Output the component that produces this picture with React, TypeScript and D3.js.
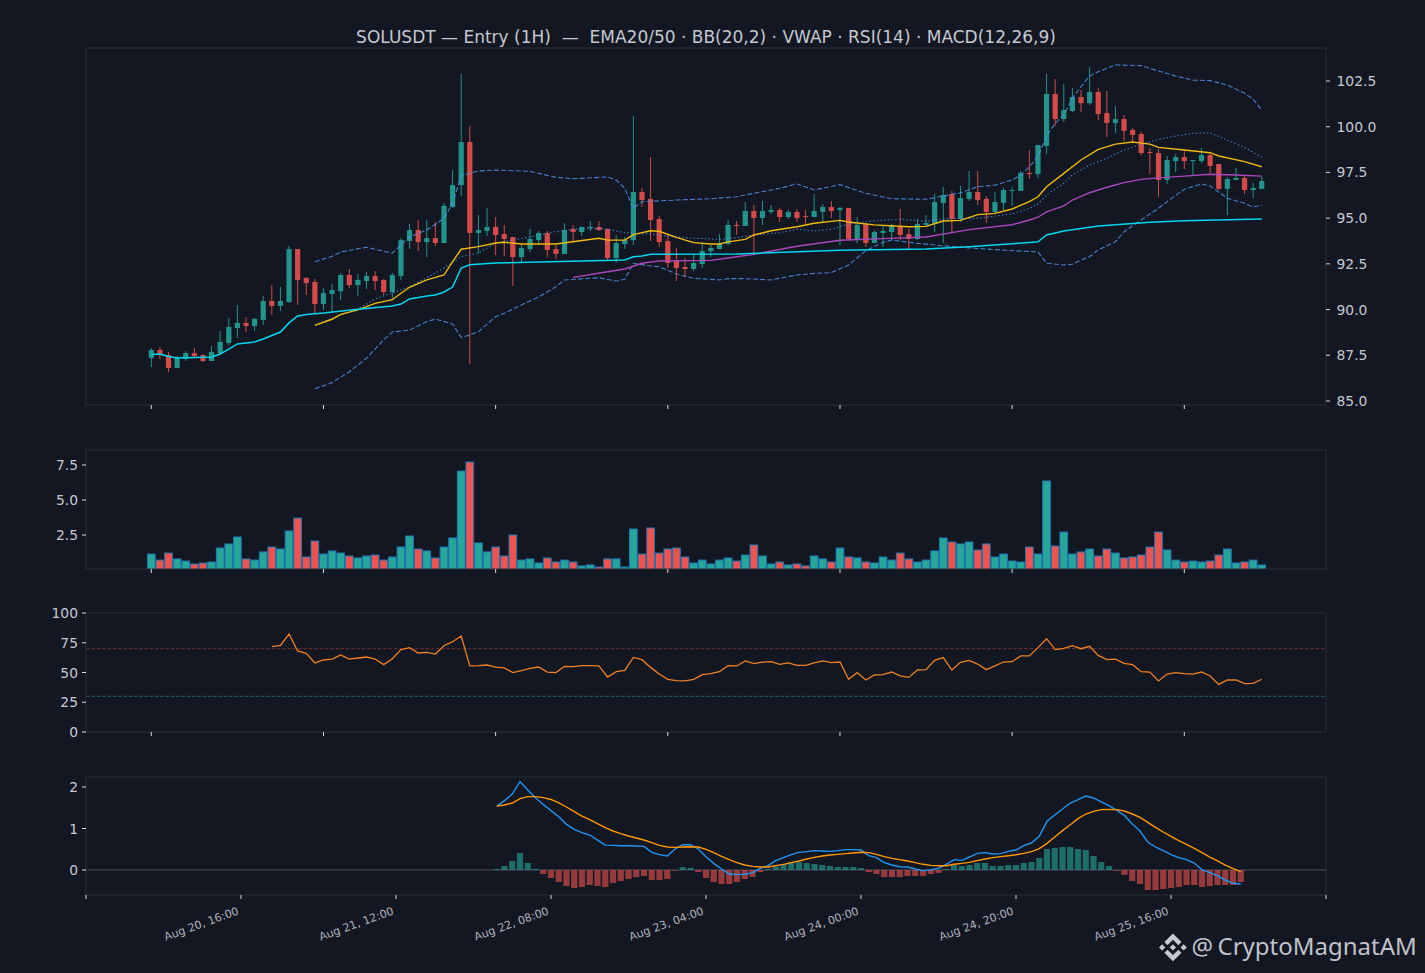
import React from "react";
import * as d3 from "d3";

const TITLE = "SOLUSDT — Entry (1H)  —  EMA20/50 · BB(20,2) · VWAP · RSI(14) · MACD(12,26,9)";

// open, high, low, close per hour
const candles: number[][] = [
[87.35,87.90,86.86,87.79],[87.79,87.95,87.30,87.51],[87.51,87.68,86.59,86.81],[86.81,87.46,86.81,87.35],[87.30,87.73,87.19,87.62],
[87.62,87.90,87.41,87.46],[87.51,87.57,87.13,87.19],[87.19,88.01,87.19,87.68],[87.62,88.83,87.57,88.23],[88.17,89.54,88.06,89.05],
[88.99,90.25,88.45,89.27],[89.27,89.59,88.77,89.10],[89.10,89.54,88.83,89.49],[89.43,90.74,89.16,90.47],[90.47,91.34,89.71,90.20],
[90.20,91.23,89.92,90.47],[90.41,93.48,90.36,93.31],[93.31,93.31,90.25,91.62],[91.73,91.78,90.80,91.45],[91.51,91.67,89.81,90.30],
[90.30,91.18,89.98,90.91],[90.85,91.40,89.81,91.07],[91.01,92.00,90.52,91.89],[91.89,92.22,91.18,91.34],[91.34,91.95,90.74,91.62],
[91.56,92.05,91.12,91.84],[91.84,92.11,91.07,91.56],[91.62,91.67,90.80,90.96],[90.96,92.00,90.58,91.89],[91.84,93.91,91.62,93.80],
[93.75,94.68,93.31,94.35],[94.35,94.90,93.20,93.69],[93.69,94.90,92.87,93.91],[93.91,94.79,93.48,93.64],[93.64,95.83,93.64,95.67],
[95.61,97.63,95.56,96.81],[96.81,102.89,96.21,99.16],[99.16,100.04,87.02,94.19],[94.19,95.17,93.09,94.35],[94.30,95.56,94.02,94.52],
[94.52,95.06,92.98,94.08],[94.13,94.63,92.93,93.86],[93.97,93.97,91.29,92.87],[92.87,93.53,92.60,93.37],[93.31,94.41,93.15,93.86],
[93.80,94.30,93.53,94.19],[94.19,94.30,92.87,93.26],[93.31,93.53,92.76,93.04],[93.04,94.73,93.04,94.35],[94.41,94.63,93.75,94.24],
[94.24,94.52,94.02,94.52],[94.46,94.84,94.30,94.52],[94.52,94.84,94.30,94.35],[94.41,94.41,92.71,92.82],[92.82,94.08,92.55,93.64],
[93.58,93.97,93.31,93.80],[93.80,100.59,93.53,96.43],[96.43,96.65,95.61,95.99],[96.05,98.34,93.75,94.90],[94.95,95.12,93.42,93.69],
[93.75,94.08,92.27,92.55],[92.66,93.37,91.56,92.27],[92.33,92.82,91.78,92.22],[92.22,93.04,92.11,92.55],[92.49,93.59,92.27,93.20],
[93.20,93.53,92.87,93.37],[93.31,94.13,93.31,93.59],[93.59,94.90,93.53,94.63],[94.63,94.84,94.08,94.57],[94.57,95.88,94.57,95.39],
[95.39,95.72,92.98,95.01],[95.01,95.94,94.63,95.39],[95.34,95.72,95.23,95.45],[95.45,95.56,94.79,95.06],[95.06,95.45,94.95,95.34],
[95.34,95.50,94.79,95.01],[95.12,95.45,94.68,95.06],[95.06,96.32,95.06,95.39],[95.34,95.77,94.79,95.61],[95.61,95.94,95.01,95.39],
[95.45,95.61,93.53,95.56],[95.56,95.56,93.75,93.86],[93.86,95.06,93.64,94.63],[94.68,94.73,93.42,93.64],[93.64,94.35,93.64,94.24],
[94.19,94.63,93.42,94.30],[94.24,94.68,93.80,94.63],[94.52,95.50,93.80,94.08],[94.13,94.41,93.26,93.86],[93.86,94.95,93.80,94.68],
[94.63,95.17,94.52,94.73],[94.68,96.32,94.24,95.88],[95.83,96.70,93.64,96.27],[96.32,96.49,94.19,94.95],[94.95,96.76,94.79,96.10],
[96.05,97.58,95.94,96.43],[96.43,97.58,95.72,95.99],[96.05,96.21,94.73,95.34],[95.34,96.43,95.28,95.88],[95.83,96.65,95.45,96.54],
[96.49,96.70,95.67,96.54],[96.49,97.58,96.49,97.47],[97.47,98.73,97.14,97.41],[97.41,99.00,97.19,99.00],[98.95,102.89,98.51,101.79],
[101.79,102.61,100.04,100.42],[100.42,102.34,100.26,100.91],[100.86,102.12,100.80,101.62],[101.62,102.01,100.80,101.29],[101.29,103.27,101.18,101.90],
[101.90,102.12,100.37,100.69],[100.75,101.95,99.44,100.20],[100.20,101.13,99.66,100.42],[100.42,100.64,99.22,99.77],[99.82,99.93,99.11,99.55],
[99.60,99.71,98.45,98.56],[98.62,98.84,97.41,98.56],[98.56,98.78,96.16,97.09],[97.09,98.40,96.87,98.18],[98.12,98.51,97.52,98.34],
[98.34,98.73,97.69,98.12],[98.12,98.18,97.36,98.18],[98.12,98.84,98.01,98.45],[98.45,98.56,97.47,97.85],[97.96,97.96,96.54,96.60],
[96.60,97.25,95.17,97.14],[97.09,97.74,97.09,97.20],[97.20,97.36,96.32,96.54],[96.54,96.92,96.10,96.65],[96.60,97.25,96.60,97.03],
];

const volume = [
1.14,.71,1.21,.79,.64,.43,.5,.57,1.57,1.86,2.36,.79,.71,1.29,1.64,1.5,2.79,3.71,.93,2.07,
1.14,1.36,1.21,1.0,.86,1.0,1.07,.71,.93,1.64,2.43,1.5,1.36,.86,1.64,2.29,7.07,7.71,1.93,1.29,
1.64,1.0,2.5,.71,.79,.5,.86,.57,.71,.57,.29,.36,.21,.79,.79,.21,2.93,1.14,3.0,1.21,
1.5,1.57,.93,.5,.71,.43,.71,.86,.64,1.07,1.79,1.0,.43,.57,.36,.43,.29,1.0,.79,.57,
1.57,.93,.86,.57,.5,.93,.71,1.21,.79,.57,.71,1.36,2.29,2.0,1.86,2.0,1.43,1.86,.93,1.14,
.64,.57,1.64,1.14,6.36,1.71,2.71,1.14,1.29,1.5,1.0,1.5,1.21,.86,.93,1.07,1.64,2.71,1.43,.71,
.57,.64,.57,.64,1.07,1.5,.5,.57,.71,.36,
];

const vwapAt = [0,1,2,3,7,8,9,10,12,13,14,15,16,17,18,20,24,28,29,30,31,32,33,34,35,36,37,40,45,55,56,57,58,68,80,90,95,100,102,103,104,106,110,116,120,129];
const vwap = [87.54,87.57,87.43,87.35,87.41,87.57,87.84,88.12,88.23,88.39,88.58,88.77,89.27,89.65,89.73,89.81,90.02,90.20,90.30,90.58,90.66,90.74,90.80,90.96,91.23,92.27,92.45,92.55,92.60,92.71,92.89,92.93,93.02,93.04,93.24,93.31,93.44,93.60,93.67,93.71,94.08,94.30,94.57,94.77,94.86,94.95];

const ema20At = [19,21,22,24,26,28,29,30,32,34,35,36,38,40,41,43,47,52,53,55,56,58,59,61,63,65,66,67,69,70,72,75,77,80,81,84,88,90,92,94,96,98,100,102,103,104,106,108,110,112,114,116,117,120,123,124,127,129];
const ema20 = [89.14,89.47,89.74,89.98,90.34,90.54,90.89,91.22,91.62,91.89,92.62,93.30,93.44,93.64,93.68,93.59,93.59,93.90,93.80,93.80,94.10,94.31,94.28,93.95,93.66,93.59,93.59,93.70,93.84,94.08,94.31,94.53,94.72,94.88,94.79,94.63,94.53,94.55,94.84,94.88,95.19,95.26,95.50,95.90,96.17,96.72,97.45,98.18,98.76,99.05,99.16,99.05,98.87,98.73,98.58,98.40,98.09,97.81];

const ema50At = [49,53,55,57,59,65,67,70,75,80,85,90,95,100,102,103,104,106,107,109,111,113,115,117,120,123,126,129];
const ema50 = [91.76,92.07,92.22,92.53,92.66,92.69,92.82,93.02,93.46,93.79,93.88,93.97,94.37,94.64,94.90,95.05,95.34,95.67,95.99,96.39,96.69,96.94,97.12,97.20,97.30,97.40,97.36,97.30];

const bbUpperAt = [19,21,22,25,28,29,30,32,34,35,36,37,38,40,44,47,49,53,54,55,56,57,58,61,65,68,70,73,75,77,80,83,86,90,92,94,96,98,100,101,102,103,104,105,106,107,108,109,110,112,115,117,119,121,123,125,127,128,129];
const bbUpper = [92.62,92.91,93.15,93.41,93.08,93.53,93.98,94.35,94.97,95.83,97.30,97.45,97.58,97.63,97.56,97.23,97.16,97.25,97.09,96.63,95.54,95.90,95.92,95.99,96.06,96.17,96.36,96.63,96.87,96.54,96.83,96.36,96.06,96.03,96.21,96.39,96.72,96.80,97.09,97.36,97.81,98.36,99.49,100.19,100.64,101.55,102.19,102.77,103.01,103.38,103.34,103.05,102.77,102.55,102.52,102.28,101.83,101.50,100.91];

const bbLowerAt = [19,21,23,25,27,28,30,32,33,35,36,37,38,40,41,43,45,47,48,52,54,55,56,58,59,61,63,66,67,69,72,75,77,79,81,83,85,86,89,92,94,97,100,103,104,106,107,108,109,110,112,113,115,117,118,120,122,123,125,127,128,129];
const bbLower = [85.67,86.00,86.60,87.34,88.34,88.77,88.88,89.34,89.48,89.21,88.48,88.61,88.79,89.61,89.80,90.25,90.69,91.25,91.62,91.74,91.56,91.66,92.53,92.38,92.34,91.95,91.71,91.62,91.69,91.69,91.62,91.89,91.98,92.02,92.44,93.22,93.68,93.80,93.62,93.49,93.41,93.31,93.22,93.16,92.53,92.44,92.48,92.71,92.89,93.26,93.71,94.26,94.90,95.54,95.90,96.58,96.87,96.76,96.09,95.81,95.61,95.72];

const bbMidAt = [19,21,24,26,30,33,34,36,38,40,44,47,49,52,53,55,58,60,63,66,68,70,73,75,77,79,81,84,87,90,93,96,100,102,103,104,106,107,109,111,113,115,117,119,121,123,125,127,129];
const bbMid = [89.16,89.54,90.03,90.58,91.25,92.00,92.27,92.89,93.09,93.64,93.97,94.26,94.39,94.44,94.39,94.20,94.13,94.02,93.90,93.84,93.93,94.08,94.20,94.39,94.30,94.39,94.68,94.86,94.94,94.83,94.99,94.99,95.23,95.54,95.77,96.27,96.91,97.36,97.91,98.27,98.73,99.04,99.31,99.49,99.64,99.67,99.27,98.87,98.33];

const rsiStart = 14;
const rsi = [
71.7,72.8,82.3,68.1,66.1,58,60.5,61.3,64.7,61.3,62.2,63,61.3,56.6,61.6,69.2,70.9,66.4,66.9,65.5,
72.5,75.9,80.7,55.5,55.7,56.3,54.6,53.8,49.9,51.5,53.5,54.6,50.4,49.9,55.2,54.9,55.7,55.7,55.5,46.2,
50.7,51.8,62.7,60.8,54.3,48.7,44.3,43.1,42.9,44.3,48.2,49,50.7,55.7,55.5,59.7,57.4,
58.8,59.1,56.9,58,56,56,58,59.7,58.3,58.8,44.3,49.9,43.7,47.9,48.2,50.4,47.1,45.9,52.1,52.4,
60.2,62.5,52.1,58.5,60.2,57.1,52.4,55.5,58.8,59.1,63.9,63.9,70.9,78.4,69.2,70.3,72.5,70,72,64.4,
60.8,61.3,57.7,56.6,50.7,50.4,42.9,48.7,49.9,49,48.7,50.4,47.1,40,43.7,43.7,40.6,40.9,44.3,
];

const macd = [
1.54,1.67,1.83,2.13,1.93,1.74,1.58,1.43,1.285,1.10,.98,.90,.843,.72,.60,.594,.586,.586,.578,.57,
.426,.37,.337,.506,.61,.61,.506,.32,.16,.024,-.096,-.112,-.104,-.064,.04,.104,.225,.297,.37,.426,
.442,.466,.458,.45,.466,.49,.49,.482,.345,.297,.177,.12,.08,.072,.024,-.016,.008,.04,.137,.25,
.233,.313,.40,.418,.386,.394,.45,.482,.586,.65,.81,1.173,1.325,1.47,1.614,1.695,1.783,1.735,1.64,1.55,
1.44,1.31,1.108,.94,.675,.554,.466,.37,.297,.25,.169,.008,-.064,-.137,-.241,-.321,-.337,
];
const signal = [
1.54,1.566,1.614,1.72,1.767,1.767,1.743,1.70,1.62,1.518,1.406,1.30,1.213,1.116,1.02,.94,.875,.82,.77,.723,
.659,.594,.554,.546,.554,.562,.554,.498,.418,.329,.249,.177,.12,.088,.072,.072,.104,.137,.177,.217,
.265,.305,.337,.361,.377,.394,.41,.426,.418,.377,.321,.281,.249,.217,.177,.137,.112,.104,.104,.137,
.16,.185,.225,.265,.297,.321,.345,.369,.40,.442,.514,.643,.795,.948,1.092,1.237,1.349,1.414,1.454,1.462,
1.454,1.422,1.349,1.269,1.149,1.028,.916,.811,.707,.618,.522,.418,.313,.217,.12,.032,-.04,
];
const hist = [
.024,.096,.217,.41,.169,.03,-.096,-.193,-.289,-.386,-.434,-.41,-.361,-.386,-.41,-.313,-.265,-.217,-.169,-.145,
-.241,-.241,-.217,-.016,.072,.048,-.048,-.193,-.289,-.337,-.337,-.289,-.217,-.169,-.048,.024,.088,.145,.185,.193,
.169,.145,.12,.096,.072,.072,.072,.048,-.048,-.096,-.169,-.169,-.169,-.145,-.145,-.145,-.096,-.072,.024,.12,
.096,.12,.169,.169,.096,.096,.12,.12,.169,.193,.289,.506,.53,.554,.554,.506,.482,.337,.193,.096,
-.016,-.12,-.265,-.337,-.482,-.482,-.458,-.434,-.41,-.361,-.361,-.41,-.386,-.361,-.361,-.361,-.289,
];

const priceTicks = [85, 87.5, 90, 92.5, 95, 97.5, 100, 102.5];
const volumeTicks = [2.5, 5, 7.5];
const rsiTicks = [0, 25, 50, 75, 100];
const macdTicks = [0, 1, 2];
const rsiLevels = [70, 30];
const hourTicks = [0, 20, 40, 60, 80, 100, 120];
const macdAxisTicks = [-53, -33, -13, 7, 27, 47, 67, 87, 107];
const macdAxisLabels = ["", "Aug 20, 16:00", "Aug 21, 12:00", "Aug 22, 08:00", "Aug 23, 04:00", "Aug 24, 00:00", "Aug 24, 20:00", "Aug 25, 16:00", ""];

const BG = "#131722", GRID = "#2a2e39", TEXT = "#c4c8d0", TICK = "#d8dae0";
const UP = "#26a69a", DOWN = "#ef5350";
const L = 86, R = 1326;
const P = { top: 48, bottom: 405 }, V = { top: 450, bottom: 569 }, Q = { top: 613, bottom: 732 }, M = { top: 777, bottom: 895 };

const x = d3.scaleLinear().domain([-7.586, 136.46]).range([L, R]);
const xM = d3.scaleLinear().domain([-53, 107]).range([L, R]);
const yP = d3.scaleLinear().domain([85, 102.5]).range([401, 81]);
const yV = d3.scaleLinear().domain([0, 7.5]).range([570, 465]);
const yR = d3.scaleLinear().domain([0, 100]).range([732, 613]);
const yM = d3.scaleLinear().domain([0, 2]).range([870, 787]);

const priceLine = (at: number[], vals: number[]) =>
  d3.line<number>().x((_, i) => x(at[i])).y((v) => yP(v))(vals) || "";

const Panel = ({ b }: { b: { top: number; bottom: number } }) => (
  <rect x={L} y={b.top} width={R - L} height={b.bottom - b.top} fill="none" stroke={GRID} strokeWidth={1} />
);
const XTicks = ({ y }: { y: number }) => (
  <g stroke={TICK} strokeWidth={1}>
    {hourTicks.map((t) => <line key={t} x1={x(t)} x2={x(t)} y1={y} y2={y + 4} />)}
  </g>
);
const YLabels = ({ ticks, scale, fmt }: { ticks: number[]; scale: (v: number) => number; fmt?: (v: number) => string }) => (
  <g>
    {ticks.map((t) => (
      <g key={t}>
        <line x1={L - 4} x2={L} y1={scale(t)} y2={scale(t)} stroke={TICK} />
        <text x={L - 8} y={scale(t)} dy="0.36em" textAnchor="end" fill={TEXT} fontSize={13.89}>{fmt ? fmt(t) : t}</text>
      </g>
    ))}
  </g>
);

export default function App() {
  const bodyW = 5.2, volW = 7.7, histW = 6.2;
  return (
    <svg width={1425} height={973} viewBox="0 0 1425 973"
      style={{ position: "absolute", left: 0, top: 0, display: "block", background: BG }}
      fontFamily="'DejaVu Sans', sans-serif">
      <defs>
        <clipPath id="vclip"><rect x={L} y={V.top} width={R - L} height={V.bottom - V.top} /></clipPath>
      </defs>
      <text x={706} y={36.8} dy="0.36em" textAnchor="middle" fill={TEXT} fontSize={17} style={{ whiteSpace: "pre" }}>{TITLE}</text>

      {/* price */}
      <g>
        {candles.map((c, i) => {
          const up = c[3] >= c[0];
          const col = up ? UP : DOWN;
          const top = yP(Math.max(c[0], c[3])), bot = yP(Math.min(c[0], c[3]));
          return (
            <g key={i} opacity={0.88}>
              <line x1={x(i)} x2={x(i)} y1={yP(c[1])} y2={yP(c[2])} stroke={col} strokeWidth={1} />
              <rect x={x(i) - bodyW / 2} y={top} width={bodyW} height={Math.max(bot - top, 0.8)} fill={col} />
            </g>
          );
        })}
        <g fill="none" stroke="#4f94e6" strokeWidth={1.1} opacity={0.85}>
          <path d={priceLine(bbUpperAt, bbUpper)} strokeDasharray="5 2.2" />
          <path d={priceLine(bbLowerAt, bbLower)} strokeDasharray="5 2.2" />
          <path d={priceLine(bbMidAt, bbMid)} strokeDasharray="1.4 2.3" />
        </g>
        <path d={priceLine(ema50At, ema50)} fill="none" stroke="#ab47bc" strokeWidth={1.4} />
        <path d={priceLine(ema20At, ema20)} fill="none" stroke="#f0b90b" strokeWidth={1.4} />
        <path d={priceLine(vwapAt, vwap)} fill="none" stroke="#00d8f0" strokeWidth={1.5} />
      </g>
      <Panel b={P} />
      <XTicks y={P.bottom} />
      {priceTicks.map((t) => (
        <g key={t}>
          <line x1={R} x2={R + 4} y1={yP(t)} y2={yP(t)} stroke={TICK} />
          <text x={R + 10.5} y={yP(t)} dy="0.36em" fill={TEXT} fontSize={13.89}>{t.toFixed(1)}</text>
        </g>
      ))}

      {/* volume */}
      <g clipPath="url(#vclip)">
        {volume.map((v, i) => {
          const up = candles[i][3] >= candles[i][0];
          return (
            <rect key={i} x={x(i) - volW / 2} y={yV(v)} width={volW} height={yV(0) - yV(v)}
              fill={up ? UP : DOWN} stroke="#1f77b4" strokeWidth={1} />
          );
        })}
      </g>
      <Panel b={V} />
      <XTicks y={V.bottom} />
      <YLabels ticks={volumeTicks} scale={yV} fmt={(t) => t.toFixed(1)} />

      {/* rsi */}
      <line x1={L} x2={R} y1={yR(rsiLevels[0])} y2={yR(rsiLevels[0])} stroke={DOWN} strokeOpacity={0.4} strokeWidth={1} strokeDasharray="3.7 1.6" />
      <line x1={L} x2={R} y1={yR(rsiLevels[1])} y2={yR(rsiLevels[1])} stroke={UP} strokeOpacity={0.55} strokeWidth={1} strokeDasharray="3.7 1.6" />
      <path d={d3.line<number>().x((_, i) => x(i + rsiStart)).y((v) => yR(v))(rsi) || ""} fill="none" stroke="#f08020" strokeWidth={1.3} />
      <Panel b={Q} />
      <XTicks y={Q.bottom} />
      <YLabels ticks={rsiTicks} scale={yR} />

      {/* macd */}
      <line x1={L} x2={R} y1={yM(0)} y2={yM(0)} stroke="#787b86" strokeWidth={0.9} strokeOpacity={0.6} />
      {hist.map((h, j) => (
        <rect key={j} x={xM(j) - histW / 2} y={Math.min(yM(h), yM(0))} width={histW} height={Math.abs(yM(h) - yM(0))}
          fill={h >= 0 ? UP : DOWN} fillOpacity={0.6} />
      ))}
      <path d={d3.line<number>().x((_, j) => xM(j)).y((v) => yM(v))(macd) || ""} fill="none" stroke="#2196f3" strokeWidth={1.4} />
      <path d={d3.line<number>().x((_, j) => xM(j)).y((v) => yM(v))(signal) || ""} fill="none" stroke="#ff9800" strokeWidth={1.4} />
      <Panel b={M} />
      <YLabels ticks={macdTicks} scale={yM} />
      {macdAxisTicks.map((t, k) => (
        <g key={t}>
          <line x1={xM(t)} x2={xM(t)} y1={M.bottom} y2={M.bottom + 4} stroke={TICK} />
          {macdAxisLabels[k] && (
            <text transform={`translate(${xM(t) - 1.5},${M.bottom + 19}) rotate(-20)`} textAnchor="end" fill="#aeb2bb" fontSize={11.11}>{macdAxisLabels[k]}</text>
          )}
        </g>
      ))}

      {/* watermark */}
      <g transform="translate(1159,933.5) scale(0.22)" fill="#d9dbe0" fillOpacity={0.9}>
        <path d="m38.73 53.2 24.59-24.58 24.6 24.6 14.3-14.31L63.32 0 24.42 38.9z" />
        <path d="m0 63.31 14.3-14.31 14.31 14.31-14.31 14.3z" />
        <path d="m38.73 73.41 24.59 24.59 24.6-24.6 14.31 14.29-38.9 38.91-38.91-38.88z" />
        <path d="m98 63.31 14.3-14.31 14.31 14.3-14.31 14.32z" />
        <path d="m77.83 63.3-14.51-14.52-10.73 10.73-1.24 1.23-2.54 2.54 14.51 14.5 14.51-14.52z" />
      </g>
      <g fill="#d9dbe0" fillOpacity={0.9} fontSize={24} fontFamily="'Noto Sans', sans-serif">
        <text x={1191.5} y={955}>@</text>
        <text x={1217.5} y={955}>CryptoMagnatAM</text>
      </g>
    </svg>
  );
}
